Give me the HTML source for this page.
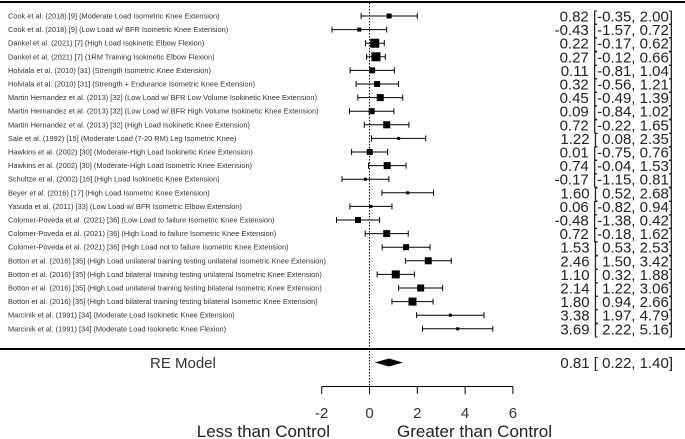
<!DOCTYPE html>
<html><head><meta charset="utf-8"><style>
html,body{margin:0;padding:0;background:#fff;}
svg{display:block;font-family:"Liberation Sans",Arial,sans-serif;}
</style></head><body>
<svg id="chart" width="685" height="439" viewBox="0 0 685 439" xmlns="http://www.w3.org/2000/svg"></svg>
<script>
const studyLabels=["Cook et al. (2018) [9] (Moderate Load Isometric Knee Extension)","Cook et al. (2018) [9] (Low Load w/ BFR Isometric Knee Extension)","Dankel et al. (2021) [7] (High Load Isokinetic Elbow Flexion)","Dankel et al. (2021) [7] (1RM Training Isokinetic Elbow Flexion)","Holviala  et al. (2010) [31] (Strength Isometric Knee Extension)","Holviala  et al. (2010) [31] (Strength + Endurance  Isometric Knee Extension)","Martin Hernandez et al. (2013) [32] (Low Load w/ BFR Low Volume Isokinetic Knee Extension)","Martin Hernandez et al. (2013) [32] (Low Load w/ BFR High Volume Isokinetic Knee Extension)","Martin Hernandez et al. (2013) [32] (High Load Isokinetic Knee Extension)","Sale  et al. (1992) [15] (Moderate Load (7-20 RM) Leg Isometric Knee)","Hawkins et al. (2002) [30] (Moderate-High Load Isokinetic Knee Extension)","Hawkins et al. (2002) [30] (Moderate-High Load Isometric Knee Extension)","Schultze et al. (2002) [16] (High Load Isokinetic Knee Extension)","Beyer et al. (2016) [17] (High Load Isometric Knee Extension)","Yasuda  et al. (2011) [33] (Low Load w/ BFR Isometric Elbow Extension)","Colomer-Poveda  et al. (2021) [36] (Low Load to failure Isometric Knee Extension)","Colomer-Poveda  et al. (2021) [36] (High Load to failure Isometric Knee Extension)","Colomer-Poveda  et al. (2021) [36] (High Load not to failure Isometric Knee Extension)","Botton  et al. (2016) [35] (High Load unilateral training testing unilateral Isometric Knee Extension)","Botton  et al. (2016) [35] (High Load bilateral training testing unilateral Isometric Knee Extension)","Botton  et al. (2016) [35] (High Load unilateral training testing bilateral Isometric Knee Extension)","Botton  et al. (2016) [35] (High Load bilateral training testing bilateral Isometric  Knee Extension)","Marcinik  et al. (1991) [34] (Moderate Load Isokinetic Knee Extension)","Marcinik  et al. (1991) [34] (Moderate Load Isokinetic Knee Flexion)"];
const estimates=[0.82,-0.43,0.22,0.27,0.11,0.32,0.45,0.09,0.72,1.22,0.01,0.74,-0.17,1.60,0.06,-0.48,0.72,1.53,2.46,1.10,2.14,1.80,3.38,3.69];
const lowerCI=[-0.35,-1.57,-0.17,-0.12,-0.81,-0.56,-0.49,-0.84,-0.22,0.08,-0.75,-0.04,-1.15,0.52,-0.82,-1.38,-0.18,0.53,1.50,0.32,1.22,0.94,1.97,2.22];
const upperCI=[2.00,0.72,0.62,0.66,1.04,1.21,1.39,1.02,1.65,2.35,0.76,1.53,0.81,2.68,0.94,0.42,1.62,2.53,3.42,1.88,3.06,2.66,4.79,5.16];
const weights=[5,4,9,9,6,6,7,6,7,3,6,7,3,3,3,6,7,6,7,8,7,8,3,3];
const pooled=[0.81,0.22,1.40];
const xTicks=[-2,0,2,4,6];

const svg=document.getElementById('chart');
const NS='http://www.w3.org/2000/svg';
const xs=v=>369.5+v*23.9;
const ys=i=>16+i*13.6;
function mk(tag,attrs,parent){const e=document.createElementNS(NS,tag);for(const k in attrs)e.setAttribute(k,attrs[k]);(parent||svg).appendChild(e);return e;}
const f=v=>{const s=v.toFixed(2);return v<0?s:' '+s;};

let e=mk('line',{x1:0,x2:685,y1:2,y2:2,stroke:'#000','stroke-width':2});

e=mk('line',{x1:xs(0),x2:xs(0),y1:3,y2:387,stroke:'#000','stroke-width':1,'stroke-dasharray':'1.5,1.5'});


for(let i=0;i<estimates.length;i++){
  const y=ys(i);
  const g=mk('g',{});
  
  
  let t=mk('text',{x:8,y:y+2.5,'font-size':7.4,fill:'#333'},g);t.textContent=studyLabels[i];
  
  let l=mk('line',{x1:xs(lowerCI[i]),x2:xs(upperCI[i]),y1:y,y2:y,stroke:'#000','stroke-width':1},g);
  
  for(const v of [lowerCI[i],upperCI[i]]){
    const c=mk('line',{x1:xs(v),x2:xs(v),y1:y-3,y2:y+3,stroke:'#000','stroke-width':1},g);
    
  }
  const w=weights[i];
  let r=mk('rect',{x:xs(estimates[i])-w/2,y:y-w/2,width:w,height:w,fill:'#000'},g);
  
  let v=mk('text',{x:673,y:y+5.5,'font-size':15,'text-anchor':'end',fill:'#222','xml:space':'preserve'},g);
  v.textContent=f(estimates[i])+' ['+f(lowerCI[i]).trim().replace(/^(\d)/,' $1')+', '+upperCI[i].toFixed(2)+']';
  
}

e=mk('line',{x1:0,x2:685,y1:349,y2:349,stroke:'#000','stroke-width':2});

e=mk('text',{x:150,y:368,'font-size':15,fill:'#333'});e.textContent='RE Model';

e=mk('polygon',{points:`${xs(pooled[1])},362.5 ${xs(pooled[0])},358.5 ${xs(pooled[2])},362.5 ${xs(pooled[0])},366.5`,fill:'#000'});

e=mk('text',{x:673,y:368,'font-size':15,'text-anchor':'end',fill:'#222','xml:space':'preserve'});
e.textContent=pooled[0].toFixed(2)+' [ '+pooled[1].toFixed(2)+', '+pooled[2].toFixed(2)+']';


e=mk('line',{x1:xs(xTicks[0]),x2:xs(xTicks[xTicks.length-1]),y1:386.5,y2:386.5,stroke:'#000','stroke-width':1});

for(const t of xTicks){
  let k=mk('line',{x1:xs(t),x2:xs(t),y1:386.5,y2:394,stroke:'#000','stroke-width':1});
  
  let lb=mk('text',{x:xs(t),y:418,'font-size':15,'text-anchor':'middle',fill:'#333'});lb.textContent=String(t);
  
}
e=mk('text',{x:330,y:437,'font-size':17,'text-anchor':'end',fill:'#222'});e.textContent='Less than Control';

e=mk('text',{x:397,y:437,'font-size':17,fill:'#222'});e.textContent='Greater than Control';

</script>
</body></html>
